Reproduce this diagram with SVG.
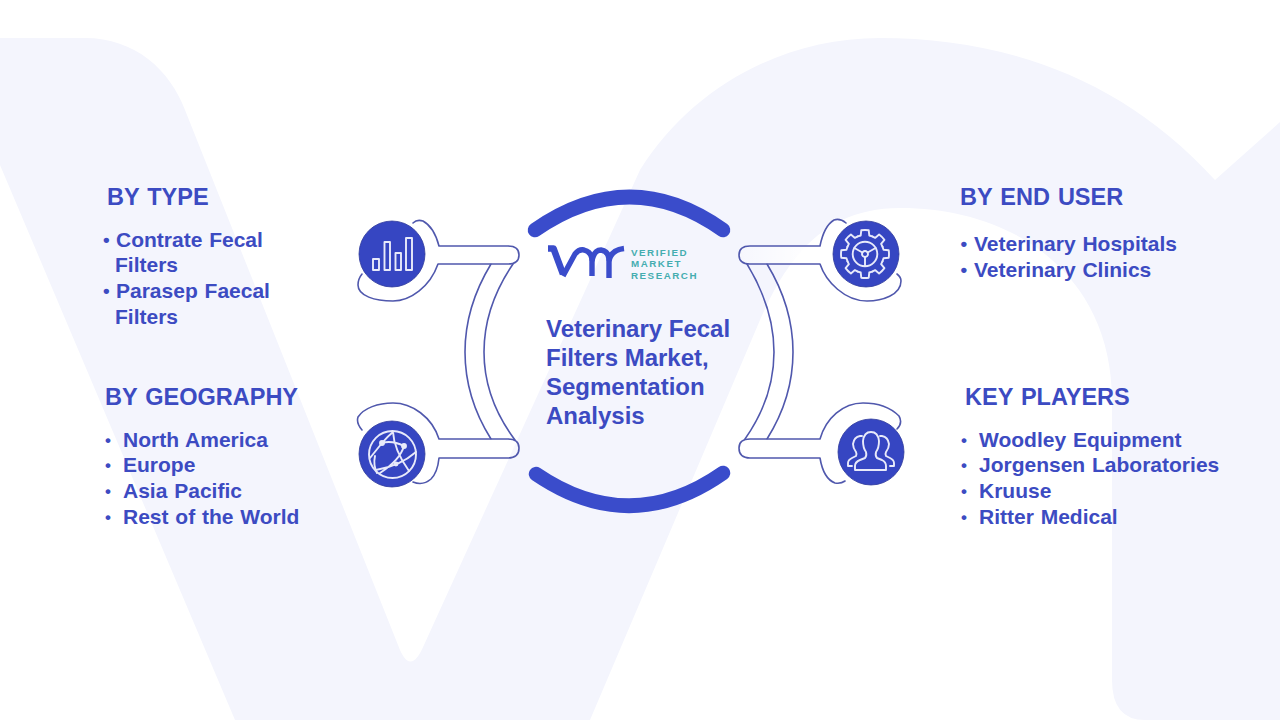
<svg xmlns="http://www.w3.org/2000/svg" xmlns:xlink="http://www.w3.org/1999/xlink" width="1280" height="720" viewBox="0 0 1280 720">
<style>
text{font-family:"Liberation Sans",Arial,sans-serif;font-weight:700;fill:#3c4bc2}
.h{font-size:23.5px;word-spacing:1.5px}
.b{font-size:21px;word-spacing:1px}
.d{font-size:19px}
.e{font-size:17px}
.c{font-size:24px}
.o{stroke:#5058ad;stroke-width:1.6;stroke-linecap:round;stroke-linejoin:round}
.s{fill:none}
.disc{fill:#3646c2;stroke:#2f3a9c;stroke-width:.8}
.i{fill:none;stroke:#e8eafa;stroke-width:1.9;stroke-linecap:round;stroke-linejoin:round}
.arc{fill:none;stroke:#3a4ccb;stroke-width:14.5;stroke-linecap:round}
.m{fill:none;stroke:#3a4ccb;stroke-width:5.4;stroke-linejoin:round}
text.t{font-weight:700;font-size:9.8px;letter-spacing:1.5px;fill:#45adb0}
</style>
<defs>
<linearGradient id="gl" gradientUnits="userSpaceOnUse" x1="445" y1="0" x2="519" y2="0"><stop offset="0" stop-color="#fff"/><stop offset="1" stop-color="#fff" stop-opacity=".2"/></linearGradient>
<linearGradient id="gr" gradientUnits="userSpaceOnUse" x1="815" y1="0" x2="739" y2="0"><stop offset="0" stop-color="#fff"/><stop offset="1" stop-color="#fff" stop-opacity=".2"/></linearGradient>
<path id="tooth" d="M-7.27-17.55L-4.27-18.51L-3.75-23.7Q0-24.3 3.75-23.7L4.27-18.51L7.27-17.55"/>
</defs>
<rect width="1280" height="720" fill="#fff"/>
<path id="bg" fill="#f4f5fd" d="M0,38H85C135,38 170,70 185,110L398,645Q410,678 424,645L640,170C690,90 780,38 880,38C1000,38 1120,75 1215,180L1280,122V720H1145Q1112,720 1112,680V400C1112,280 1020,208 900,208C830,208 790,250 760,320L590,720H235L0,165Z"/>

<g id="connectors">
<path class="o s" d="M491,264C474,292 465,322 465,352C465,382 474,412 491,439"/>
<path class="o s" d="M513,264C494,292 484,322 484,352C484,382 494,412 515,440"/>
<path class="o s" d="M747,264C764,292 774,322 774,352C774,382 764,412 745,439"/>
<path class="o s" d="M767,264C784,292 793,322 793,352C793,382 784,412 767,439"/>
</g>

<g id="center">
<path class="arc" d="M535,230Q630,164 723,230"/>
<path class="arc" d="M536,474Q630,538 723,473"/>
<g id="logo">
<path class="m" style="stroke-width:6.600" d="M548,248.500H553.500L563,274"/>
<path class="m" d="M563,276L575,254Q579,249 584,250Q592,252 592,261V276"/>
<path class="m" d="M592,261Q594,250 601,250Q609,251 609,261V278"/>
<path class="m" d="M609,261Q611,250 624,248.500"/>
<text class="t" x="631" y="255.500">VERIFIED</text>
<text class="t" x="631" y="267">MARKET</text>
<text class="t" x="631" y="278.500">RESEARCH</text>
</g>
<text class="c" x="546" y="337">Veterinary Fecal</text>
<text class="c" x="546" y="366">Filters Market,</text>
<text class="c" x="546" y="395">Segmentation</text>
<text class="c" x="546" y="424">Analysis</text>
</g>

<g id="by-type">
<path class="o" fill="url(#gl)" d="M413,223Q417,219 423,221Q434,227 439,246H508Q519,246 519,255Q519,264 508,264H438C430,287 410,301 393,301C375,301 358,296 358,285Q358,279 362,274"/>
<circle class="disc" cx="392" cy="254" r="33"/>
<g class="i"><rect x="373" y="259" width="6" height="11"/><rect x="384.500" y="242" width="5.500" height="28"/><rect x="395.500" y="253" width="5.500" height="17"/><rect x="406" y="238" width="6" height="32"/></g>
<text class="h" x="107" y="205">BY TYPE</text>
<text class="d" x="103" y="246">•</text><text class="b" x="116" y="247">Contrate Fecal</text>
<text class="b" x="115" y="272">Filters</text>
<text class="d" x="103" y="297">•</text><text class="b" x="116" y="298">Parasep Faecal</text>
<text class="b" x="115" y="324">Filters</text>
</g>

<g id="by-geography">
<path class="o" fill="url(#gl)" d="M362,430Q356,423 358,417C364,408 378,403 393,403C412,403 432,417 439,439H508Q519,439 519,448Q519,458 508,458H439C438,468 435,475 431,479Q423,486 413,482"/>
<circle class="disc" cx="392" cy="454" r="33"/>
<g class="i"><circle cx="392.500" cy="454.500" r="23.500"/><path d="M370,458L382,443Q388,436 393,432M382,443Q392,440 404,446M393,432Q394,450 409,471M375,456Q373,465 377,473M376,470Q400,466 416,452M404,446Q400,460 380,473"/><circle cx="382" cy="443" r="2" fill="#e8eafa"/><circle cx="404" cy="446" r="2" fill="#e8eafa"/><circle cx="396" cy="464" r="1.500" fill="#e8eafa"/></g>
<text class="h" x="105" y="405">BY GEOGRAPHY</text>
<text class="e" x="105" y="446">•</text><text class="b" x="123" y="447">North America</text>
<text class="e" x="105" y="471">•</text><text class="b" x="123" y="472">Europe</text>
<text class="e" x="105" y="497">•</text><text class="b" x="123" y="498">Asia Pacific</text>
<text class="e" x="105" y="523">•</text><text class="b" x="123" y="524">Rest of the World</text>
</g>

<g id="by-end-user">
<path class="o" fill="url(#gr)" d="M846,223Q840,218 834,220Q824,226 820,246H750Q739,246 739,255Q739,264 750,264H820C826,282 845,301 867,301C882,301 901,295 901,281Q901,277 897,274"/>
<circle class="disc" cx="866" cy="254" r="33"/>
<g class="i" transform="translate(865,254)">
<use xlink:href="#tooth" href="#tooth"/><use xlink:href="#tooth" href="#tooth" transform="rotate(45)"/><use xlink:href="#tooth" href="#tooth" transform="rotate(90)"/><use xlink:href="#tooth" href="#tooth" transform="rotate(135)"/><use xlink:href="#tooth" href="#tooth" transform="rotate(180)"/><use xlink:href="#tooth" href="#tooth" transform="rotate(225)"/><use xlink:href="#tooth" href="#tooth" transform="rotate(270)"/><use xlink:href="#tooth" href="#tooth" transform="rotate(315)"/>
<circle r="12.300"/><circle r="3"/><path d="M0,3V12M-2.600-1.500L-10.600-6M2.600-1.500L10.600-6"/>
</g>
<text class="h" x="960" y="205">BY END USER</text>
<text class="d" x="960.500" y="250">•</text><text class="b" x="974" y="251">Veterinary Hospitals</text>
<text class="d" x="960.500" y="276">•</text><text class="b" x="974" y="277">Veterinary Clinics</text>
</g>

<g id="key-players">
<path class="o" fill="url(#gr)" d="M897,429Q903,423 899,416C890,407 876,403 863,403C843,403 826,418 820,439H750Q739,439 739,448Q739,458 750,458H820C822,470 827,480 835,483Q841,484 845,481"/>
<circle class="disc" cx="871" cy="452" r="33"/>
<g class="i"><path d="M855,470V466Q855,462 860,460L865,458Q867,456 866,452Q863,448 863,441Q864,432 871,432Q878,432 879,441Q879,448 876,452Q875,456 877,458L882,460Q886,462 886,466V470Z"/><path d="M852,466H848V463Q848,460 852,458L856,456Q857,454 856,452Q853,448 853,444Q854,437 860,436H862"/><path d="M890,466H894V463Q894,460 890,458L886,456Q885,454 886,452Q889,448 889,444Q888,437 882,436H880"/></g>
<text class="h" x="965" y="405">KEY PLAYERS</text>
<text class="e" x="961" y="446">•</text><text class="b" x="979" y="447">Woodley Equipment</text>
<text class="e" x="961" y="471">•</text><text class="b" x="979" y="472">Jorgensen Laboratories</text>
<text class="e" x="961" y="497">•</text><text class="b" x="979" y="498">Kruuse</text>
<text class="e" x="961" y="523">•</text><text class="b" x="979" y="524">Ritter Medical</text>
</g>
</svg>
